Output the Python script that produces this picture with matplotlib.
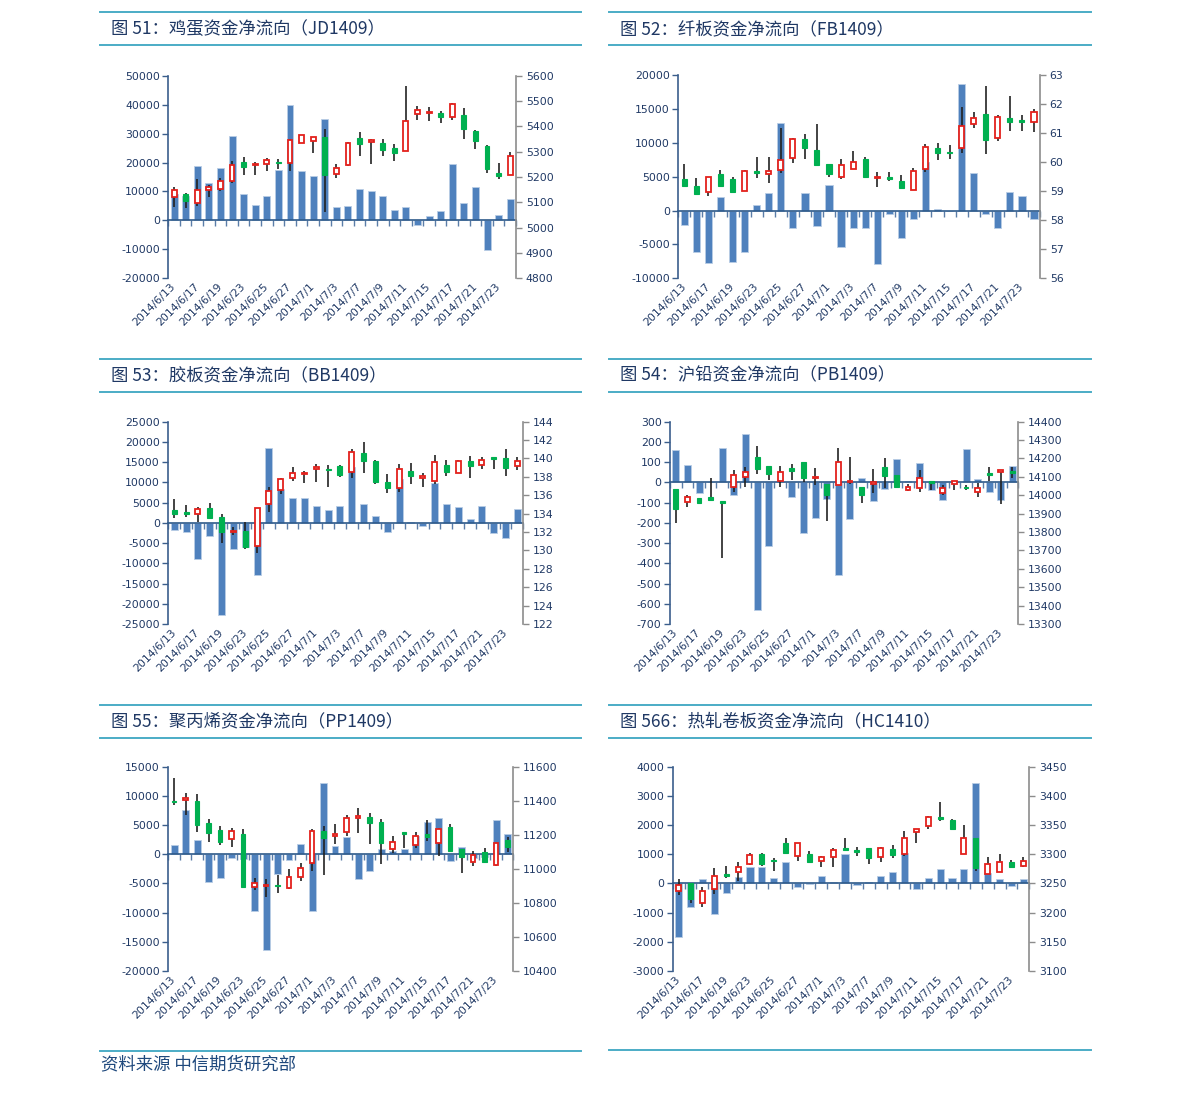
import numpy as np
import matplotlib
matplotlib.use('Agg')
import matplotlib.pyplot as plt
from matplotlib.lines import Line2D

plt.rcParams['font.family'] = ['DejaVu Sans', 'Noto Sans CJK SC']

# ---- data ----
dates = ['2014/6/13', '2014/6/16', '2014/6/17', '2014/6/18', '2014/6/19', '2014/6/20',
         '2014/6/23', '2014/6/24', '2014/6/25', '2014/6/26', '2014/6/27', '2014/6/30',
         '2014/7/1', '2014/7/2', '2014/7/3', '2014/7/4', '2014/7/7', '2014/7/8',
         '2014/7/9', '2014/7/10', '2014/7/11', '2014/7/14', '2014/7/15', '2014/7/16',
         '2014/7/17', '2014/7/18', '2014/7/21', '2014/7/22', '2014/7/23', '2014/7/24']

titles = ['图 51：鸡蛋资金净流向（JD1409）', '图 52：纤板资金净流向（FB1409）',
          '图 53：胶板资金净流向（BB1409）', '图 54：沪铅资金净流向（PB1409）',
          '图 55：聚丙烯资金净流向（PP1409）', '图 566：热轧卷板资金净流向（HC1410）']

# JD1409
jd_flow = [9000, 8500, 18800, 13000, 18000, 29000, 9000, 5300, 8500, 17500, 40000, 17000, 15400, 35100, 4500,
           5000, 11000, 10100, 8500, 3600, 4500, -1600, 1500, 3100, 19600, 6000, 11400, -10200, 2000, 7300]
jd_open = [5122, 5132, 5099, 5149, 5154, 5186, 5261, 5246, 5251, 5261, 5257, 5336, 5342, 5359, 5211,
           5246, 5353, 5337, 5333, 5313, 5303, 5449, 5454, 5454, 5438, 5445, 5383, 5322, 5214, 5208]
jd_high = [5162, 5136, 5191, 5168, 5195, 5264, 5279, 5259, 5274, 5271, 5350, 5366, 5359, 5389, 5250,
           5338, 5378, 5349, 5349, 5329, 5559, 5480, 5475, 5461, 5491, 5471, 5386, 5326, 5254, 5297]
jd_low = [5083, 5076, 5087, 5122, 5145, 5175, 5208, 5208, 5224, 5232, 5224, 5336, 5293, 5063, 5195,
          5244, 5284, 5251, 5284, 5263, 5303, 5425, 5421, 5412, 5425, 5349, 5309, 5214, 5192, 5208]
jd_close = [5149, 5105, 5149, 5159, 5186, 5246, 5241, 5251, 5267, 5254, 5346, 5366, 5359, 5208, 5234,
            5336, 5330, 5346, 5307, 5296, 5422, 5464, 5458, 5438, 5487, 5389, 5343, 5232, 5204, 5284]

# FB1409
fb_flow = [-2100, -6050, -7770, 2070, -7570, -6050, 790, 2560, 12990, -2510, 2560, -2260, 3740, -5310, -2510,
           -2510, -7920, -540, -4080, -1280, 7200, 250, 0, 18690, 5510, -540, -2510, 2700, 2210, -1280]
fb_open = [59.42, 59.19, 58.98, 59.58, 59.42, 59.02, 59.70, 59.58, 59.73, 60.13, 60.80, 60.42, 59.94, 59.48, 59.75,
           60.10, 59.44, 59.50, 59.36, 59.04, 59.75, 60.48, 60.36, 60.48, 61.31, 61.65, 60.84, 61.51, 61.45, 61.37]
fb_high = [59.94, 59.44, 59.50, 59.73, 59.48, 59.73, 60.19, 60.19, 61.16, 60.82, 60.97, 61.30, 59.94, 60.10, 60.38,
           60.17, 59.65, 59.65, 59.56, 59.81, 60.62, 60.65, 60.59, 61.91, 61.74, 62.62, 61.62, 62.28, 61.62, 61.82]
fb_low = [59.19, 58.90, 58.83, 59.16, 58.93, 59.02, 59.44, 59.29, 59.64, 59.96, 60.11, 59.89, 59.50, 59.41, 59.75,
          59.50, 59.13, 59.36, 59.10, 59.04, 59.66, 60.07, 60.11, 60.33, 61.16, 60.27, 60.73, 61.08, 61.08, 61.03]
fb_close = [59.19, 58.90, 59.50, 59.19, 58.98, 59.70, 59.61, 59.70, 60.07, 60.80, 60.50, 59.89, 59.58, 59.89, 60.02,
            59.50, 59.50, 59.43, 59.12, 59.70, 60.51, 60.30, 60.30, 61.26, 61.51, 60.76, 61.54, 61.37, 61.37, 61.71]

# BB1409
bb_flow = [-1770, -2350, -9020, -3170, -22780, -6470, -6050, -12900, 18410, 8280, 6050, 6050, 4160, 3170, 4160,
           13720, 4650, 1770, -2180, 10830, 290, -700, 9930, 4650, 3830, 950, 4160, -2510, -3670, 3420]
bb_open = [134.40, 134.14, 133.92, 134.58, 133.67, 131.97, 132.15, 130.48, 135.05, 136.57, 137.84, 138.31, 138.82,
           138.89, 139.22, 138.49, 140.63, 139.76, 137.48, 136.82, 138.67, 137.84, 137.55, 139.29, 138.38, 139.72,
           139.29, 140.12, 140.01, 139.22]
bb_high = [135.55, 134.94, 134.69, 135.12, 133.92, 132.51, 133.13, 134.65, 136.86, 137.84, 139.11, 138.67, 139.40,
           139.29, 139.29, 140.99, 141.75, 139.83, 138.27, 139.40, 139.54, 138.38, 140.38, 139.83, 139.83, 140.27,
           140.12, 140.12, 141.03, 140.19]
bb_low = [133.49, 133.67, 133.13, 133.42, 130.77, 131.68, 130.15, 129.76, 134.21, 136.10, 137.55, 137.37, 137.48,
          136.86, 138.02, 137.91, 138.38, 137.19, 136.21, 136.32, 137.22, 136.93, 137.22, 138.09, 138.38, 137.84,
          138.82, 138.82, 138.09, 138.74]
bb_close = [133.92, 133.92, 134.47, 133.49, 132.04, 132.15, 130.41, 134.58, 136.50, 137.77, 138.38, 138.45, 139.11,
            138.74, 138.20, 140.74, 139.72, 137.48, 136.75, 138.82, 138.09, 138.09, 139.58, 138.56, 139.72, 139.22,
            139.83, 139.90, 139.00, 139.72]

# PB1409
pb_flow = [160, 85, -50, 0, 168, -60, 237, -630, -315, 0, -70, -250, -178, -82, -458,
           -181, 20, -92, -35, 114, 8, 97, -38, -87, 0, 163, 15, -46, -87, 81]
pb_open = [14034, 13965, 13983, 13989, 13969, 14047, 14097, 14206, 14161, 14079, 14150, 14183, 14092, 14061, 14056,
           14070, 14047, 14059, 14152, 14110, 14027, 14038, 14077, 14014, 14061, 14047, 14019, 14119, 14128, 14132]
pb_high = [14034, 14001, 13983, 14092, 13969, 14137, 14152, 14270, 14161, 14159, 14168, 14183, 14146, 14061, 14255,
           14210, 14047, 14143, 14201, 14110, 14059, 14137, 14077, 14056, 14079, 14056, 14065, 14155, 14137, 14155]
pb_low = [13847, 13938, 13956, 13969, 13661, 14016, 14047, 14115, 14083, 14047, 14083, 14074, 14056, 13860, 14056,
          14059, 13956, 14010, 14038, 14041, 14023, 14019, 14028, 14001, 14028, 14028, 13989, 14079, 13951, 14096]
pb_close = [13923, 13989, 13956, 13974, 13960, 14110, 14128, 14143, 14115, 14128, 14134, 14096, 14097, 14001, 14179,
            14077, 14001, 14074, 14105, 14043, 14045, 14092, 14068, 14039, 14079, 14038, 14039, 14108, 14137, 14123]

# PP1409
pp_flow = [1580, 7580, 2440, -4700, -4010, -590, -800, -9680, -16410, -3440, -990, 1750, -9680, 12260, 1410,
           3010, -4300, -2820, 900, 500, 940, 3170, 5460, 6150, -1160, 1180, -700, -400, 5870, 3410]
pp_open = [11398, 11404, 11398, 11267, 11228, 11173, 11203, 10895, 10897, 10907, 10885, 10950, 11036, 11222, 11193,
           11218, 11300, 11306, 11273, 11115, 11218, 11140, 11203, 11154, 11244, 11116, 11042, 11101, 11023, 11169]
pp_high = [11531, 11447, 11439, 11291, 11254, 11242, 11234, 10948, 10938, 10964, 10997, 11036, 11234, 11254, 11263,
           11316, 11355, 11326, 11291, 11193, 11218, 11218, 11287, 11242, 11263, 11116, 11107, 11120, 11150, 11185]
pp_low = [11375, 11316, 11218, 11160, 11140, 11126, 10895, 10876, 10837, 10856, 10880, 10929, 10989, 10964, 11144,
          11193, 11208, 11144, 11026, 11091, 11120, 11120, 11165, 11075, 11107, 10977, 11019, 11038, 11019, 11101]
pp_close = [11391, 11418, 11257, 11208, 11160, 11222, 10895, 10915, 10907, 10897, 10954, 11003, 11222, 11179, 11203,
            11297, 11312, 11271, 11150, 11160, 11203, 11193, 11189, 11234, 11107, 11071, 11081, 11038, 11150, 11130]

# HC1410
hc_flow = [-1820, -800, 140, -1050, -320, 230, 570, 550, 175, 745, -110, -20, 255, 60, 1000,
           -55, 50, 255, 380, 1030, -180, 175, 495, 175, 495, 3450, 350, 140, -90, 140]
hc_open = [3237, 3250, 3217, 3240, 3266, 3270, 3283, 3300, 3291, 3320, 3297, 3300, 3289, 3295, 3311,
           3307, 3311, 3295, 3309, 3300, 3338, 3348, 3363, 3359, 3300, 3327, 3266, 3270, 3286, 3280]
hc_high = [3257, 3250, 3244, 3276, 3280, 3286, 3303, 3302, 3293, 3327, 3320, 3306, 3297, 3310, 3327,
           3313, 3311, 3313, 3316, 3340, 3343, 3366, 3389, 3361, 3350, 3327, 3295, 3300, 3290, 3295]
hc_low = [3230, 3216, 3209, 3232, 3259, 3255, 3282, 3280, 3272, 3302, 3288, 3286, 3278, 3279, 3307,
          3297, 3284, 3287, 3293, 3297, 3320, 3344, 3357, 3343, 3300, 3271, 3266, 3270, 3276, 3279]
hc_close = [3247, 3224, 3237, 3263, 3263, 3279, 3299, 3283, 3288, 3303, 3319, 3286, 3295, 3307, 3308,
            3304, 3294, 3311, 3299, 3327, 3343, 3364, 3360, 3343, 3327, 3276, 3284, 3286, 3278, 3288]

# ---- layout / style ----
W, H = 1191, 1096
NAVY = '#1F3864'
BAR = '#4F81BD'
UP = '#E3211C'
DOWN = '#00B050'
HEAD = '#4BACC6'

fig = plt.figure(figsize=(W / 100, H / 100), dpi=100)
fig.patch.set_facecolor('white')


def hline(x0, x1, y):
    fig.add_artist(Line2D([x0 / W, x1 / W], [1 - y / H, 1 - y / H], transform=fig.transFigure,
                          color=HEAD, lw=1.4))


def draw_panel(box, flow, o, h, l, c, left_lim, left_step, right_lim, right_step):
    x0, y0, x1, y1 = box
    ax = fig.add_axes([x0 / W, 1 - y1 / H, (x1 - x0) / W, (y1 - y0) / H])
    x = np.arange(len(dates))
    ax.bar(x, flow, width=0.6, color=BAR, edgecolor='#B9CDE5', linewidth=0.6, zorder=2)
    ax.set_xlim(-0.5, len(dates) - 0.5)
    ax.set_ylim(*left_lim)
    ax.set_yticks(np.arange(left_lim[0], left_lim[1] + left_step / 2, left_step))
    ax.yaxis.set_major_formatter(matplotlib.ticker.FuncFormatter(lambda v, p: '%d' % v))
    for s in ['top', 'right']:
        ax.spines[s].set_visible(False)
    ax.spines['left'].set_color('#3B5E8C')
    ax.spines['left'].set_linewidth(1.2)
    ax.spines['bottom'].set_position(('data', 0))
    ax.spines['bottom'].set_color('#2E5A8A')
    ax.spines['bottom'].set_linewidth(1.2)
    ax.set_xticks(np.arange(-0.5, len(dates), 1))
    ax.tick_params(axis='x', length=4, width=1, color='#5B7DA8', labelbottom=False)
    ax.tick_params(axis='y', length=4, width=1, color='#3B5E8C', labelcolor=NAVY, labelsize=7.8, pad=2)

    sec = ax.secondary_xaxis(0)
    sec.set_xticks(x[::2], labels=dates[::2])
    sec.tick_params(length=0, pad=5, labelsize=7.8, labelcolor=NAVY)
    for lab in sec.get_xticklabels():
        lab.set_rotation(45)
        lab.set_ha('right')
        lab.set_va('center')
        lab.set_rotation_mode('anchor')
    sec.spines['bottom'].set_visible(False)

    ax2 = ax.twinx()
    ax2.set_ylim(*right_lim)
    ax2.set_yticks(np.arange(right_lim[0], right_lim[1] + right_step / 2, right_step))
    for s in ['top', 'left', 'bottom']:
        ax2.spines[s].set_visible(False)
    ax2.spines['right'].set_color('#8C8C8C')
    ax2.spines['right'].set_linewidth(1.2)
    ax2.tick_params(axis='y', length=4, width=1, color='#8C8C8C', labelcolor=NAVY, labelsize=7.8, pad=3)

    o, h, l, c = map(np.asarray, (o, h, l, c))
    up = c >= o
    ax2.vlines(x, l, h, color='#222222', lw=1.2, zorder=2)
    span = right_lim[1] - right_lim[0]
    body = np.maximum(np.abs(c - o), span * 0.004)
    bottom = np.minimum(o, c)
    ax2.bar(x[up], body[up], bottom=bottom[up], width=0.42, facecolor='white',
            edgecolor=UP, linewidth=1.3, zorder=3)
    ax2.bar(x[~up], body[~up], bottom=bottom[~up], width=0.42, facecolor=DOWN,
            edgecolor=DOWN, linewidth=0.8, zorder=3)
    return ax


panels = [
    ((168.3, 75.7, 516.0, 278.3), jd_flow, jd_open, jd_high, jd_low, jd_close,
     (-20000, 50000), 10000, (4800, 5600), 100),
    ((678.3, 75.0, 1040.0, 278.3), fb_flow, fb_open, fb_high, fb_low, fb_close,
     (-10000, 20000), 5000, (56, 63), 1),
    ((168.3, 421.7, 523.3, 624.0), bb_flow, bb_open, bb_high, bb_low, bb_close,
     (-25000, 25000), 5000, (122, 144), 2),
    ((670.0, 421.7, 1018.3, 624.0), pb_flow, pb_open, pb_high, pb_low, pb_close,
     (-700, 300), 100, (13300, 14400), 100),
    ((168.3, 766.7, 513.3, 971.0), pp_flow, pp_open, pp_high, pp_low, pp_close,
     (-20000, 15000), 5000, (10400, 11600), 200),
    ((672.7, 766.7, 1029.3, 971.0), hc_flow, hc_open, hc_high, hc_low, hc_close,
     (-3000, 4000), 1000, (3100, 3450), 50),
]

for p in panels:
    draw_panel(*p)

# headers
col_x = [(100, 581), (609, 1091)]
head_y = [(12, 45, 29), (359, 392, 375), (705, 738, 721)]
for k, t in enumerate(titles):
    r, cidx = divmod(k, 2)
    xa, xb = col_x[cidx]
    ya, yb, yt = head_y[r]
    hline(xa, xb, ya)
    hline(xa, xb, yb)
    fig.text((xa + 11) / W, 1 - yt / H, t, fontsize=12.5, color=NAVY, va='center', ha='left',
             family=['Noto Sans CJK SC', 'DejaVu Sans'])

# footer
hline(100, 581, 1051)
hline(609, 1091, 1050)
fig.text(101 / W, 1 - 1064 / H, '资料来源 中信期货研究部', fontsize=12.5, color='#1F497D', va='center',
         ha='left', style='italic', family=['Noto Sans CJK SC', 'DejaVu Sans'])

fig.savefig('out.png', dpi=100)
